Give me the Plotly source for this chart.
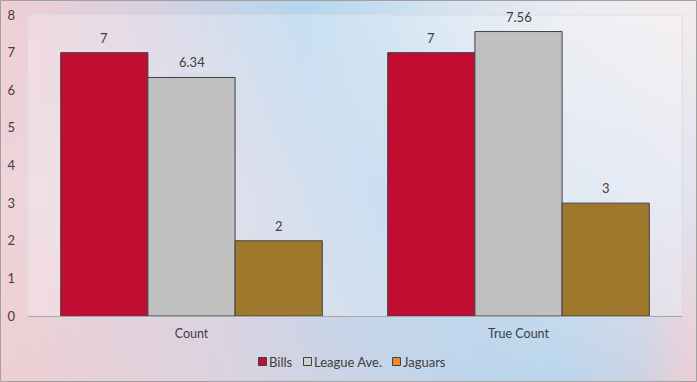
import base64
import struct
import zlib

import numpy as np
import plotly.graph_objects as go

# ---------------- data ----------------
categories = ["Count", "True Count"]
series_names = ["Bills", "League Ave.", "Jaguars"]
bills = [7, 7]
league_ave = [6.34, 7.56]
jaguars = [2, 3]
series_values = [bills, league_ave, jaguars]
bar_colors = ["#C10D32", "#C0C0C0", "#9E792D"]
legend_colors = ["#C10D32", "#D0D0D0", "#EE8A2E"]
y_ticks = [0, 1, 2, 3, 4, 5, 6, 7, 8]

# ---------------- geometry ----------------
W, H = 697, 382
ML, MR, MT, MB = 28, 15, 15, 66
PW, PH = W - ML - MR, H - MT - MB
BARGAP = 0.2


def px_to_paper_x(px):
    return (px - ML) / PW


def px_to_paper_y(py):
    return (H - MB - py) / PH


# ---------------- background gradient image ----------------
def row_colors(stops_x, stops_c):
    xs = np.arange(W, dtype=float)
    c = np.array(stops_c, dtype=float)
    return np.stack([np.interp(xs, stops_x, c[:, k]) for k in range(3)], axis=1)


top_row = row_colors([0, 150, 305, 450, 560, 697],
                     [(240, 206, 212), (215, 208, 225), (180, 214, 238),
                      (215, 228, 240), (234, 235, 242), (244, 236, 236)])
mid_row = row_colors([0, 200, 380, 560, 697],
                     [(240, 212, 218), (218, 212, 228), (184, 213, 237),
                      (215, 226, 240), (226, 228, 240)])
bot_row = row_colors([0, 200, 330, 480, 560, 640, 697],
                     [(238, 206, 210), (222, 210, 222), (205, 212, 230),
                      (188, 213, 236), (186, 214, 236), (205, 210, 228),
                      (240, 205, 210)])

img = np.zeros((H, W, 3), dtype=float)
for yy in range(H):
    f = yy / (H - 1)
    if f <= 0.5:
        t = f / 0.5
        img[yy] = top_row * (1 - t) + mid_row * t
    else:
        t = (f - 0.5) / 0.5
        img[yy] = mid_row * (1 - t) + bot_row * t
img = np.clip(np.round(img), 0, 255).astype(np.uint8)


def make_png(arr):
    h, w, _ = arr.shape
    raw = b"".join(b"\x00" + arr[r].tobytes() for r in range(h))

    def chunk(tag, data):
        c = struct.pack(">I", len(data)) + tag + data
        return c + struct.pack(">I", zlib.crc32(tag + data) & 0xFFFFFFFF)

    png = b"\x89PNG\r\n\x1a\n"
    png += chunk(b"IHDR", struct.pack(">IIBBBBB", w, h, 8, 2, 0, 0, 0))
    png += chunk(b"IDAT", zlib.compress(raw, 9))
    png += chunk(b"IEND", b"")
    return png


bg_uri = "data:image/png;base64," + base64.b64encode(make_png(img)).decode()

# ---------------- figure ----------------
FONT = "Lato, sans-serif"
fig = go.Figure()
for name, vals, col in zip(series_names, series_values, bar_colors):
    fig.add_trace(go.Bar(
        x=categories, y=vals, name=name,
        marker=dict(color=col, line=dict(color="#404040", width=1)),
        showlegend=False, hoverinfo="x+y+name",
    ))

shapes = [
    # plot area overlay + border
    dict(type="rect", xref="paper", yref="paper", x0=0, x1=1, y0=0, y1=1,
         fillcolor="rgba(255,255,255,0.25)",
         line=dict(color="rgba(220,220,225,0.9)", width=1), layer="below"),
    # outer chart border
    dict(type="rect", xref="paper", yref="paper",
         x0=px_to_paper_x(0.5), x1=px_to_paper_x(W - 0.5),
         y0=px_to_paper_y(H - 0.5), y1=px_to_paper_y(0.5),
         line=dict(color="#A0A0A0", width=1), fillcolor="rgba(0,0,0,0)",
         layer="above"),
]
annotations = []

# data labels above each bar (grouped offsets from bargap)
n = len(series_names)
bw = (1 - BARGAP) / n
for si, vals in enumerate(series_values):
    off = -(1 - BARGAP) / 2 + bw * (si + 0.5)
    for ci, v in enumerate(vals):
        annotations.append(dict(x=ci + off, y=v, xref="x", yref="y",
                                text=f"{v:g}", showarrow=False,
                                yanchor="middle", yshift=15,
                                font=dict(family=FONT, size=13, color="#404040")))

# manual legend
legend_sq_x = [258.5, 303.5, 392.5]
legend_cy = 361.5
sq = 8
for name, col, sx in zip(series_names, legend_colors, legend_sq_x):
    shapes.append(dict(type="rect", xref="paper", yref="paper",
                       x0=px_to_paper_x(sx), x1=px_to_paper_x(sx + sq),
                       y0=px_to_paper_y(legend_cy + sq / 2),
                       y1=px_to_paper_y(legend_cy - sq / 2),
                       fillcolor=col, line=dict(color="#404040", width=1),
                       layer="above"))
    annotations.append(dict(xref="paper", yref="paper",
                            x=px_to_paper_x(sx + sq + 1), y=px_to_paper_y(legend_cy),
                            xanchor="left", yanchor="middle", showarrow=False,
                            text=name, font=dict(family=FONT, size=13, color="#404040"),
                            borderpad=0))

fig.update_layout(
    width=W, height=H,
    margin=dict(l=ML, r=MR, t=MT, b=MB, pad=0, autoexpand=False),
    paper_bgcolor="rgba(0,0,0,0)",
    plot_bgcolor="rgba(0,0,0,0)",
    barmode="group", bargap=BARGAP, bargroupgap=0,
    showlegend=False,
    font=dict(family=FONT, size=13, color="#404040"),
    images=[dict(source=bg_uri, xref="paper", yref="paper",
                 x=-ML / PW, y=1 + MT / PH, sizex=W / PW, sizey=H / PH,
                 xanchor="left", yanchor="top", sizing="stretch",
                 layer="below")],
    shapes=shapes,
    annotations=annotations,
    xaxis=dict(showgrid=False, showline=True, linecolor="#A6A6A6", linewidth=1,
               ticks="", ticklabelstandoff=6, automargin=False,
               tickfont=dict(family=FONT, size=12.5, color="#404040"),
               zeroline=False, fixedrange=True),
    yaxis=dict(range=[0, 8], tickvals=y_ticks, showgrid=False, zeroline=False,
               showline=False, ticks="", ticklabelstandoff=12, automargin=False,
               tickfont=dict(family=FONT, size=13, color="#404040"),
               fixedrange=True),
)

fig.write_html("out.html")
